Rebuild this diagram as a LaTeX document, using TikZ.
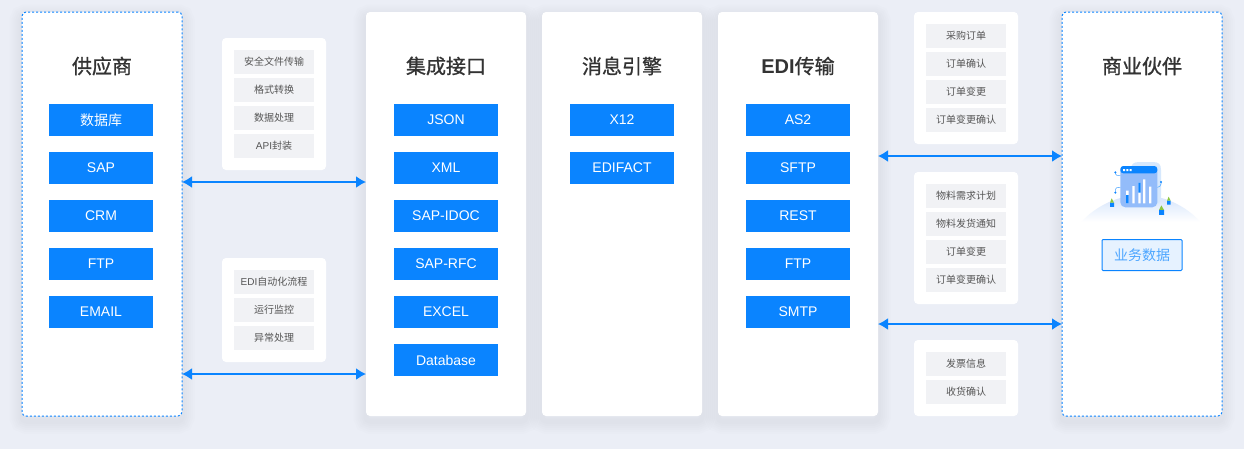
\documentclass[tikz,border=0pt]{standalone}
\usepackage{fontspec}
\setmainfont{Noto Sans CJK SC}[BoldFont={Noto Sans CJK SC}, BoldFeatures={FakeBold=1.0}]
\newfontfamily\latinface{Liberation Sans}
\newcommand{\lat}[1]{{\latinface #1}}
\usetikzlibrary{arrows.meta}
\definecolor{pagebg}{HTML}{EBEEF6}
\definecolor{mainblue}{HTML}{0A84FF}
\definecolor{itembg}{HTML}{F1F2F5}
\definecolor{itemtx}{HTML}{555555}
\definecolor{titletx}{HTML}{333333}
\definecolor{softshade}{HTML}{8A8A80}
\definecolor{lightbtn}{HTML}{E6F2FF}
\definecolor{btntx}{HTML}{4DA6FF}
\definecolor{hillc}{HTML}{D3E3FB}
\definecolor{backcard}{HTML}{D6E8FD}
\definecolor{frontcard}{HTML}{93BCFA}
\definecolor{plantg}{HTML}{8CC63F}
\tikzset{
  softlayer/.style={preaction={draw=softshade,solid,line width=#1,draw opacity=.014,transform canvas={yshift=-5pt}}},
  softshadow/.style={softlayer=25pt,softlayer=21pt,softlayer=17pt,softlayer=13pt,softlayer=9pt,softlayer=5pt},
  whitepanel/.style={softshadow,fill=white,rounded corners=4pt,minimum width=160pt,minimum height=404pt,inner sep=0pt,outer sep=0pt},
  dashpanel/.style={whitepanel,draw=mainblue,line width=1pt,dash pattern=on 2pt off 2pt},
  card/.style={fill=white,rounded corners=4pt,minimum width=104pt,inner sep=0pt,outer sep=0pt},
  bluebox/.style={fill=mainblue,text=white,minimum width=104pt,minimum height=32pt,inner sep=0pt,outer sep=0pt,font=\fontsize{14}{16}\selectfont},
  itembox/.style={fill=itembg,text=itemtx,minimum width=80pt,minimum height=24pt,inner sep=0pt,outer sep=0pt,font=\fontsize{10}{12}\selectfont},
  paneltitle/.style={text=titletx,inner sep=0pt,font=\fontsize{20}{24}\selectfont\bfseries},
  duplex/.style={draw=mainblue,line width=1.6pt,{Latex[length=10pt,width=12pt]}-{Latex[length=10pt,width=12pt]}},
  btnbox/.style={draw=mainblue,fill=lightbtn,text=btntx,line width=1pt,rounded corners=1pt,minimum width=80pt,minimum height=31pt,inner sep=0pt,outer sep=0pt,font=\fontsize{14}{16}\selectfont},
  wire/.style={draw=btntx,line width=.5pt}
}
\begin{document}
\begin{tikzpicture}[x=1pt,y=-1pt]
\useasboundingbox (0,0) rectangle (1244,448);
\fill[pagebg] (-3,-3) rectangle (1247,451);
% panels
\node[dashpanel]  (sup) at (102,214) {};
\node[whitepanel] (int) at (446,214) {};
\node[whitepanel] (msg) at (622,214) {};
\node[whitepanel] (edi) at (798,214) {};
\node[dashpanel]  (par) at (1142,214) {};
% titles
\node[paneltitle] (t1) at (102,66) {供应商};
\node[paneltitle] (t2) at (446,66) {集成接口};
\node[paneltitle] (t3) at (622,66) {消息引擎};
\node[paneltitle] (t4) at (798,66) {\lat{EDI}传输};
\node[paneltitle] (t5) at (1142,66) {商业伙伴};
% supplier
\node[bluebox] (s1) at (101,120) {数据库};
\node[bluebox] (s2) at (101,168) {\lat{SAP}};
\node[bluebox] (s3) at (101,216) {\lat{CRM}};
\node[bluebox] (s4) at (101,264) {\lat{FTP}};
\node[bluebox] (s5) at (101,312) {\lat{EMAIL}};
% integration
\node[bluebox] (i1) at (446,120) {\lat{JSON}};
\node[bluebox] (i2) at (446,168) {\lat{XML}};
\node[bluebox] (i3) at (446,216) {\lat{SAP-IDOC}};
\node[bluebox] (i4) at (446,264) {\lat{SAP-RFC}};
\node[bluebox] (i5) at (446,312) {\lat{EXCEL}};
\node[bluebox] (i6) at (446,360) {\lat{Database}};
% message
\node[bluebox] (m1) at (622,120) {\lat{X12}};
\node[bluebox] (m2) at (622,168) {\lat{EDIFACT}};
% edi
\node[bluebox] (e1) at (798,120) {\lat{AS2}};
\node[bluebox] (e2) at (798,168) {\lat{SFTP}};
\node[bluebox] (e3) at (798,216) {\lat{REST}};
\node[bluebox] (e4) at (798,264) {\lat{FTP}};
\node[bluebox] (e5) at (798,312) {\lat{SMTP}};
% left cards
\node[card,minimum height=132pt] (c1) at (274,104) {};
\node[itembox] (c1a) at (274,62) {安全文件传输};
\node[itembox] (c1b) at (274,90) {格式转换};
\node[itembox] (c1c) at (274,118) {数据处理};
\node[itembox] (c1d) at (274,146) {\lat{API}封装};
\node[card,minimum height=104pt] (c2) at (274,310) {};
\node[itembox] (c2a) at (274,282) {\lat{EDI}自动化流程};
\node[itembox] (c2b) at (274,310) {运行监控};
\node[itembox] (c2c) at (274,338) {异常处理};
% right cards
\node[card,minimum height=132pt] (c3) at (966,78) {};
\node[itembox] (c3a) at (966,36) {采购订单};
\node[itembox] (c3b) at (966,64) {订单确认};
\node[itembox] (c3c) at (966,92) {订单变更};
\node[itembox] (c3d) at (966,120) {订单变更确认};
\node[card,minimum height=132pt] (c4) at (966,238) {};
\node[itembox] (c4a) at (966,196) {物料需求计划};
\node[itembox] (c4b) at (966,224) {物料发货通知};
\node[itembox] (c4c) at (966,252) {订单变更};
\node[itembox] (c4d) at (966,280) {订单变更确认};
\node[card,minimum height=76pt] (c5) at (966,378) {};
\node[itembox] (c5a) at (966,364) {发票信息};
\node[itembox] (c5b) at (966,392) {收货确认};
% connectors
\coordinate (y1) at (274,182);
\coordinate (y2) at (274,374);
\coordinate (y3) at (966,156);
\coordinate (y4) at (966,324);
\draw[duplex] (sup.east |- y1) -- (int.west |- y1);
\draw[duplex] (sup.east |- y2) -- (int.west |- y2);
\draw[duplex] (edi.east |- y3) -- (par.west |- y3);
\draw[duplex] (edi.east |- y4) -- (par.west |- y4);
% illustration
\begin{scope}[shift={(1060,140)},x=.3333pt,y=-.3333pt]
\shade[top color=hillc,bottom color=white] (65,245) .. controls (110,195) and (180,165) .. (243,165) .. controls (306,165) and (376,195) .. (420,245) -- cycle;
\fill[backcard] (213,90) .. controls (213,72) and (220,66) .. (238,66) -- (278,66) .. controls (296,66) and (303,72) .. (303,90) -- (303,170) .. controls (303,188) and (296,194) .. (278,194) -- (213,194) -- cycle;
\fill[frontcard,rounded corners=5pt] (181,78) rectangle (292,202);
\fill[mainblue,rounded corners=3pt] (181,78) rectangle (292,100);
\fill[white] (189,87) rectangle (195,93) (199,87) rectangle (205,93) (209,87) rectangle (215,93);
\fill[white] (198,152) rectangle (206,190) (217,138) rectangle (224,190) (235,128) rectangle (242,190) (249,118) rectangle (256,190) (267,140) rectangle (274,190);
\fill[mainblue] (198,165) rectangle (206,190) (235,128) rectangle (242,158);
\draw[wire] (166,97) .. controls (166,107) and (172,107) .. (181,107);
\draw[wire] (166,158) -- (166,148) .. controls (166,143) and (172,142) .. (181,142);
\draw[wire] (303,126) -- (303,132) .. controls (303,138) and (297,142) .. (292,142);
\fill[mainblue] (166,97) circle[radius=3.5] (166,158) circle[radius=3.5] (303,126) circle[radius=3.5];
\fill[mainblue] (150,188) rectangle (162,201) (297,210) rectangle (312,225) (321,182) rectangle (332,194);
\fill[plantg] (150,188) -- (155,175) -- (162,188) -- cycle (297,210) -- (304,196) -- (312,210) -- cycle (321,182) -- (326,170) -- (332,182) -- cycle;
\end{scope}
\node[btnbox] (btn) at (1142,255) {业务数据};
\end{tikzpicture}
\end{document}
